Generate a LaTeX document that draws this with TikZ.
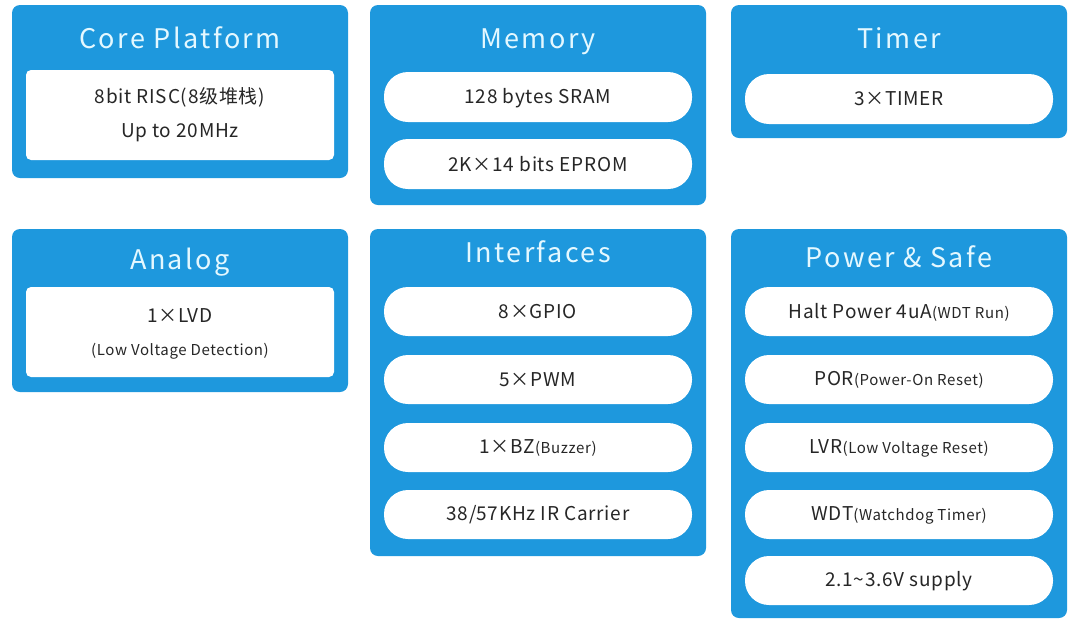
\documentclass[tikz,border=0pt]{standalone}
\usepackage{fontspec}
\setmainfont{Noto Sans CJK SC}[LetterSpace=4]
\definecolor{blu}{HTML}{1E98DD}
\definecolor{ttl}{HTML}{E4F8FF}
\begin{document}
\begin{tikzpicture}[x=1pt,y=-1pt,
 panel/.style={fill=blu,rounded corners=8pt},
 ttl/.style={text=ttl,font=\fontsize{27}{30}\selectfont\addfontfeature{LetterSpace=9},anchor=center,text height=20pt,text depth=6pt},
 pill/.style={fill=white,rounded corners=24pt},
 box/.style={fill=white,rounded corners=5pt},
 txt/.style={font=\fontsize{19}{34}\selectfont,text=black!85,anchor=center,align=center},
 sm/.style={font=\fontsize{15}{18}\selectfont}]
\useasboundingbox (0,0) rectangle (1080,625);
% panels
\path[panel] (12,5) rectangle (348,178);
\path[panel] (370,5) rectangle (706,205);
\path[panel] (731,5) rectangle (1067,138);
\path[panel] (12,229) rectangle (348,392);
\path[panel] (370,229) rectangle (706,556);
\path[panel] (731,229) rectangle (1067,618);
% titles
\node[ttl] (t1) at (180,41) {Core Platform};
\node[ttl] (t2) at (538,41) {Memory};
\node[ttl] (t3) at (899,41) {Timer};
\node[ttl] (t4) at (180,262) {Analog};
\node[ttl] (t5) at (538,255) {Interfaces};
\node[ttl] (t6) at (899,260) {Power \& Safe};
% core
\path[box] (26,70) rectangle (334,160);
\node[txt] (c1) at (180,115) {8bit RISC(8级堆栈)\\Up to 20MHz};
% memory
\path[pill] (384,72) rectangle (692,122);
\node[txt] (m1) at (538,98) {128 bytes SRAM};
\path[pill] (384,139) rectangle (692,189);
\node[txt] (m2) at (538,164) {2K×14 bits EPROM};
% timer
\path[pill] (745,74) rectangle (1053,124);
\node[txt] (tm) at (899,99) {3×TIMER};
% analog
\path[box] (26,287) rectangle (334,377);
\node[txt] (a1) at (180,316) {1×LVD};
\node[txt,sm] (a2) at (180,351) {(Low Voltage Detection)};
% interfaces
\foreach \y/\t/\n in {287/8×GPIO/i1,355/5×PWM/i2,423/{1×BZ{\fontsize{15}{18}\selectfont(Buzzer)}}/i3,490/{38\slash 57KHz IR Carrier}/i4}{
 \path[pill] (384,\y) rectangle (692,\y+49);
 \node[txt] (\n) at (538,\y+25) {\t};}
% power
\foreach \y/\t/\n in {287/{Halt Power 4uA{\fontsize{15}{18}\selectfont(WDT Run)}}/p1,
 355/{POR{\fontsize{15}{18}\selectfont(Power-On Reset)}}/p2,
 423/{LVR{\fontsize{15}{18}\selectfont(Low Voltage Reset)}}/p3,
 490/{WDT{\fontsize{15}{18}\selectfont(Watchdog Timer)}}/p4,
 556/{2.1\textasciitilde 3.6V supply}/p5}{
 \path[pill] (745,\y) rectangle (1053,\y+49);
 \node[txt] (\n) at (899,\y+25) {\t};}
\end{tikzpicture}
\end{document}
